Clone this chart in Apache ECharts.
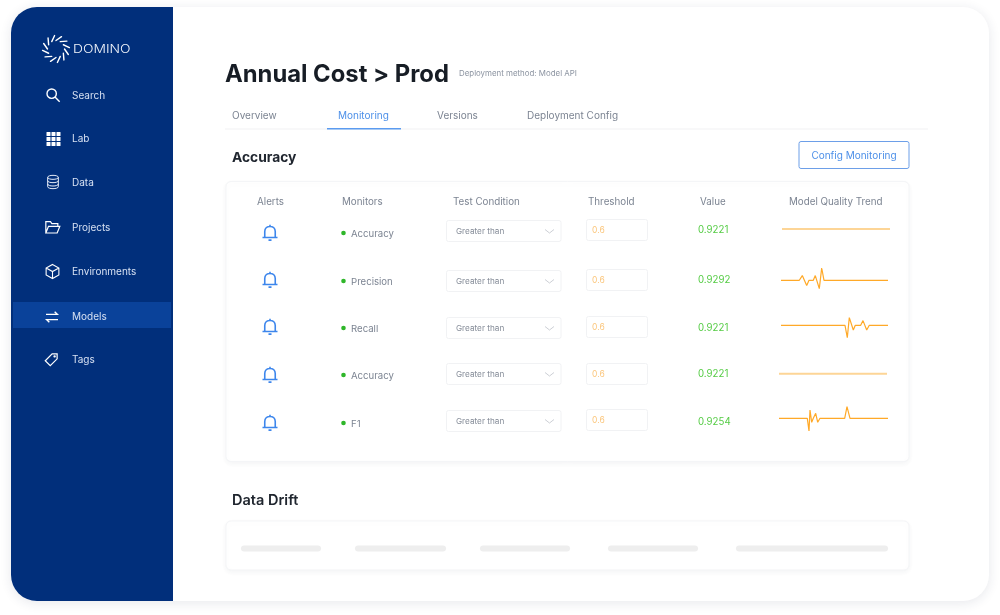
<!DOCTYPE html>
<html>
<head>
<meta charset="utf-8">
<style>
  html, body { margin: 0; padding: 0; background: #fff; }
  #chart { width: 1000px; height: 615px; }
</style>
</head>
<body>
<div id="chart"></div>
<script src="https://cdn.jsdelivr.net/npm/echarts@6/dist/echarts.min.js"></script>
<script>
// table content
const navLabels = ['Search', 'Lab', 'Data', 'Projects', 'Environments', 'Models', 'Tags']
const tabLabels = ['Overview', 'Monitoring', 'Versions', 'Deployment Config']
const tableHeaders = ['Alerts', 'Monitors', 'Test Condition', 'Threshold', 'Value', 'Model Quality Trend']
const monitors = ['Accuracy', 'Precision', 'Recall', 'Accuracy', 'F1']
const conditions = ['Greater than', 'Greater than', 'Greater than', 'Greater than', 'Greater than']
const thresholds = ['0.6', '0.6', '0.6', '0.6', '0.6']
const values = ['0.9221', '0.9292', '0.9221', '0.9221', '0.9254']

// trend lines, position along the trend / deviation from the flat level
const trendX1 = [0, 108]
const trendY1 = [0, 0]
const trendX2 = [0, 18.3, 21.3, 25.7, 28, 32.3, 34.3, 38.3, 40.7, 43, 107]
const trendY2 = [0, 0, 4.7, -5.3, 0, 0, 4.7, -8.3, 12.3, 0, 0]
const trendX3 = [0, 64, 66.3, 68.3, 72.3, 74.3, 79.7, 82, 85.7, 88.3, 107]
const trendY3 = [0, 0, -12.3, 7.7, -4.7, 0, 0, 4.7, -4.7, 0, 0]
const trendX4 = [0, 108]
const trendY4 = [0, 0]
const trendX5 = [0, 28.3, 30, 31, 32.7, 34.3, 36.7, 38.7, 41, 65.7, 68, 71, 109]
const trendY5 = [0, 0, -12.7, 8.3, -4, 0, 5, -4, 0, 0, 11.7, 0, 0]

const trendsX = [trendX1, trendX2, trendX3, trendX4, trendX5]
const trendsY = [trendY1, trendY2, trendY3, trendY4, trendY5]

const FONT = 'Inter, "Open Sans", sans-serif'

// icons on a 24 unit box, the graphic component only takes registered shapes
const ICONS = {
  search: 'M10 3a7 7 0 1 0 0 14a7 7 0 1 0 0-14zM15 15L22 22',
  data: 'M4 5c0-4 16-4 16 0v14c0 4-16 4-16 0zM4 5c0 4 16 4 16 0M4 10c0 4 16 4 16 0M4 15c0 4 16 4 16 0',
  folder: 'M2 21V4h7l2 3h9v4M2 21l4-10h17l-4 10z',
  cube: 'M12 2l9 5v10l-9 5l-9-5V7zM3 7l9 5l9-5M12 12v10',
  models: 'M3 8h17l-4-4M21 16H4l4 4',
  tag: 'M13 3h8v8L10 22l-8-8zM17 6a1 1 0 1 0 .01 0',
  bell: 'M5 18V10c0-9 14-9 14 0v8zM2 18h20M12 1v1.5M10 21.5h4'
}
Object.keys(ICONS).forEach((name) => {
  echarts.graphic.registerShape('icon_' + name, echarts.graphic.extendPath(ICONS[name], {}))
})

const text = (str, x, y, size, fill, weight, align) => ({
  type: 'text',
  style: {
    text: str,
    x: x,
    y: y + 1,
    fill: fill,
    font: (weight || 400) + ' ' + size + 'px ' + FONT,
    align: align || 'left',
    verticalAlign: 'middle'
  }
})

const box = (x, y, w, h, r, style) => ({
  type: 'rect',
  shape: { x: x, y: y, width: w, height: h, r: r },
  style: style
})

const icon = (name, x, y, size, color, width) => ({
  type: 'icon_' + name,
  x: x,
  y: y,
  scaleX: size / 24,
  scaleY: size / 24,
  style: { stroke: color, lineWidth: width * 24 / size, fill: 'none' }
})

// sidebar and page frame
const graphics = [
  box(11, 7, 978, 594, 26, { fill: '#fff', shadowBlur: 12, shadowColor: 'rgba(40,50,80,0.11)', shadowOffsetY: 2 }),
  box(11, 7, 162, 594, [26, 0, 0, 26], { fill: '#012f7b' }),
  box(13, 302, 158, 26, 0, { fill: '#0a429a' })
]

// logo ring
for (let i = 0; i < 12; i++) {
  const a = i * Math.PI / 6
  const b = a + 0.42
  graphics.push({
    type: 'line',
    shape: {
      x1: 56 + 8.5 * Math.cos(a), y1: 49 + 8.5 * Math.sin(a),
      x2: 56 + 13.5 * Math.cos(b), y2: 49 + 13.5 * Math.sin(b)
    },
    style: { stroke: '#fff', lineWidth: 1.4, lineCap: 'round' }
  })
}
const logoText = text('DOMINO', 0, 0, 11, '#f2f5fb', 300)
logoText.x = 73
logoText.y = 49
logoText.scaleX = 1.26
graphics.push(logoText)

// nav items
const navY = [95, 138, 182, 227, 271, 316, 359]
navLabels.forEach((label, i) => {
  graphics.push(text(label, 72, navY[i] - 0.5, 10, '#d6e0f2'))
})
graphics.push(icon('search', 45, 87, 16, '#fff', 1.4))
for (let r = 0; r < 3; r++) {
  for (let c = 0; c < 3; c++) {
    graphics.push(box(46.5 + c * 5, 132 + r * 5, 4, 4, 0.5, { fill: '#fff' }))
  }
}
graphics.push(icon('data', 45, 174, 16, '#e6ecf8', 1))
graphics.push(icon('folder', 44.5, 219, 16, '#fff', 1.2))
graphics.push(icon('cube', 44, 263, 17, '#fff', 1.1))
graphics.push(icon('models', 44, 309, 16, '#fff', 1.4))
graphics.push(icon('tag', 44, 352, 15, '#fff', 1.2))

// page heading
graphics.push(text('Annual Cost > Prod', 225, 74, 23.8, '#171d25', 700))
graphics.push(text('Deployment method: Model API', 459, 73, 7.9, '#8b93a0'))

// tabs
const tabX = [232, 338, 437, 527]
tabLabels.forEach((label, i) => {
  graphics.push(text(label, tabX[i], 114.5, 10, i === 1 ? '#4c8fe8' : '#7c8492'))
})
graphics.push(box(225, 128.5, 703, 1, 0, { fill: '#f1f2f4' }))
graphics.push(box(327, 128, 74, 1.5, 0, { fill: '#5b9bf0' }))

graphics.push(text('Accuracy', 232, 156.5, 13.8, '#20262f', 700))
graphics.push(box(799, 141.5, 110, 27, 2, { fill: '#fff', stroke: '#6d9fe8', lineWidth: 1 }))
graphics.push(text('Config Monitoring', 854, 154.5, 10, '#4c8fe8', 400, 'center'))

// accuracy table
graphics.push(box(226, 181.5, 683, 280, 5, { fill: '#fff', stroke: '#f4f5f7', lineWidth: 1, shadowBlur: 5, shadowColor: 'rgba(40,50,80,0.05)', shadowOffsetY: 2 }))
const headerX = [257, 342, 453, 588, 700, 789]
tableHeaders.forEach((label, i) => {
  graphics.push(text(label, headerX[i], 201, 9.8, '#7c8492'))
})

const bellY = [233, 280, 327, 375, 423]
const monitorY = [233, 281, 328, 375, 423]
const selectY = [231, 281, 328, 374, 421]
const inputY = [230, 280, 327, 374, 420]
const valueY = [229, 279, 327, 373, 421]
monitors.forEach((name, i) => {
  graphics.push(icon('bell', 261, bellY[i] - 9, 18, '#3d86ec', 1.6))
  graphics.push({ type: 'circle', shape: { cx: 343.5, cy: monitorY[i], r: 2.3 }, style: { fill: '#2fb62a' } })
  graphics.push(text(name, 351, monitorY[i], 9.6, '#7c8492'))
  graphics.push(box(446.5, selectY[i] - 10.5, 114.5, 21, 2, { fill: '#fff', stroke: '#f1f2f4', lineWidth: 1 }))
  graphics.push(text(conditions[i], 456, selectY[i] - 0.5, 8.2, '#868d99'))
  graphics.push({
    type: 'polyline',
    shape: { points: [[545, selectY[i] - 1.5], [549.5, selectY[i] + 2], [554, selectY[i] - 1.5]] },
    style: { stroke: '#c6cad0', lineWidth: 0.9, fill: 'none' }
  })
  graphics.push(box(586.5, inputY[i] - 10.5, 61, 21, 2, { fill: '#fff', stroke: '#f1f2f4', lineWidth: 1 }))
  graphics.push(text(thresholds[i], 592, inputY[i] - 0.5, 8.5, '#fbc67c'))
  graphics.push(text(values[i], 698, valueY[i], 9.7, '#55cc45'))
})

// data drift
graphics.push(text('Data Drift', 232, 499.5, 14.5, '#20262f', 600))
graphics.push(box(226, 521, 683, 49, 5, { fill: '#fff', stroke: '#f4f5f7', lineWidth: 1, shadowBlur: 5, shadowColor: 'rgba(40,50,80,0.05)', shadowOffsetY: 2 }))
const driftX = [241, 355, 480, 608, 736]
const driftW = [80, 91, 90, 90, 152]
driftX.forEach((x, i) => {
  graphics.push(box(x, 545.5, driftW[i], 6, 3, { fill: '#eeeeee' }))
})

// one small grid per trend line, 1 unit = 1px
const trendLeft = [782, 781, 781, 779, 779]
const trendMid = [229, 280.3, 325.3, 373.7, 418.3]
const trendWide = [108, 107, 107, 108, 109]
const trendColor = ['#fdd596', '#ffa928', '#ffa928', '#fdd596', '#ffa928']
const trendWeight = [2, 1.2, 1.2, 2, 1.2]

const grids = trendMid.map((mid, i) => ({
  left: trendLeft[i], top: mid - 15, width: trendWide[i], height: 30
}))
const xAxes = trendMid.map((_, i) => ({
  type: 'value', gridIndex: i, min: 0, max: trendWide[i], show: false
}))
const yAxes = trendMid.map((_, i) => ({
  type: 'value', gridIndex: i, min: -15, max: 15, show: false
}))
const series = trendsX.map((xs, i) => ({
  type: 'line',
  xAxisIndex: i,
  yAxisIndex: i,
  data: xs.map((x, k) => [x, trendsY[i][k]]),
  showSymbol: false,
  silent: true,
  animation: false,
  lineStyle: { color: trendColor[i], width: trendWeight[i] }
}))

const chart = echarts.init(document.getElementById('chart'), null, { renderer: 'canvas' })
chart.setOption({
  animation: false,
  backgroundColor: '#fff',
  grid: grids,
  xAxis: xAxes,
  yAxis: yAxes,
  series: series,
  graphic: { elements: graphics }
})
</script>
</body>
</html>
